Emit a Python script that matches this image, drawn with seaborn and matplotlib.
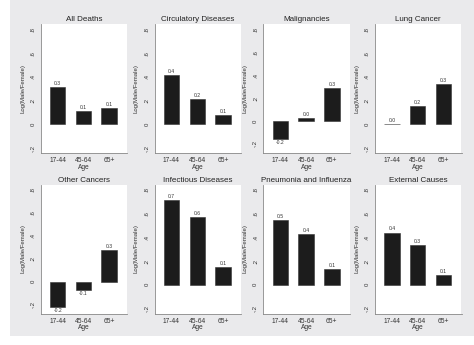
import matplotlib
matplotlib.use("Agg")
import matplotlib.pyplot as plt
from matplotlib.patches import Rectangle
import seaborn as sns
import pandas as pd

ages = ["17-44", "45-64", "65+"]
titles = ["All Deaths", "Circulatory Diseases", "Malignancies", "Lung Cancer",
          "Other Cancers", "Infectious Diseases", "Pneumonia and Influenza", "External Causes"]
all_deaths = [0.312, 0.113, 0.133]
circulatory = [0.416, 0.216, 0.075]
malignancies = [-0.154, 0.023, 0.291]
lung_cancer = [0.005, 0.156, 0.342]
other_cancers = [-0.22, -0.07, 0.272]
infectious = [0.711, 0.571, 0.148]
pneumonia = [0.548, 0.429, 0.136]
external = [0.44, 0.335, 0.083]
series = [all_deaths, circulatory, malignancies, lung_cancer,
          other_cancers, infectious, pneumonia, external]
yticks = [-0.2, 0, 0.2, 0.4, 0.6, 0.8]
yticklabels = ["-.2", "0", ".2", ".4", ".6", ".8"]

sns.set_style("white")
plt.rcParams['font.family'] = ['Liberation Sans', 'DejaVu Sans']

W, H = 474, 345
fig = plt.figure(figsize=(W / 100, H / 100), dpi=100, facecolor="white")
bg = Rectangle((10 / W, 1 - 336 / H), 1 - 10 / W, 336 / H,
               transform=fig.transFigure, facecolor="#eaeaec",
               edgecolor="none", zorder=-10)
fig.patches.append(bg)

lefts = [40.7, 154.5, 263.3, 375.0]
rows = [(24, 153), (184.5, 313.5)]
pw = 86.5

for i, (title, vals) in enumerate(zip(titles, series)):
    r, c = divmod(i, 4)
    top, bot = rows[r]
    ax = fig.add_axes([lefts[c] / W, 1 - bot / H, pw / W, (bot - top) / H])
    ax.set_zorder(5)
    ax.set_facecolor("white")
    df = pd.DataFrame({"Age": ages, "val": vals})
    sns.barplot(data=df, x="Age", y="val", ax=ax, color="#1c1c1c",
                width=0.6, edgecolor="#333333", linewidth=0.4, saturation=1)
    for cont in ax.containers:
        ax.bar_label(cont, fmt="%.1f", fontsize=3.6, padding=0.8, color="#333333")
    ax.set_xlim(-0.66, 2.70)
    if min(vals) < -0.1:
        ax.set_ylim(-0.279, 0.847)
    else:
        ax.set_ylim(-0.242, 0.845)
    ax.set_yticks(yticks)
    ax.set_yticklabels(yticklabels, rotation=90, va="center", fontsize=4.3, color="#333333")
    ax.tick_params(axis="y", length=2.2, width=0.5, pad=1.5, colors="#333333")
    ax.tick_params(axis="x", length=2.2, width=0.5, pad=1.0, labelsize=4.8, colors="#333333")
    ax.set_ylabel("Log(Male/Female)", fontsize=4.3, labelpad=4, color="#333333")
    ax.set_xlabel("Age", fontsize=4.8, labelpad=-0.5, color="#333333")
    ax.set_title(title, fontsize=5.8, pad=2.0, color="#222222")
    for s in ["top", "right"]:
        ax.spines[s].set_visible(False)
    for s in ["left", "bottom"]:
        ax.spines[s].set_color("#888888")
        ax.spines[s].set_linewidth(0.6)

fig.savefig("out.png", dpi=100, facecolor="white")
